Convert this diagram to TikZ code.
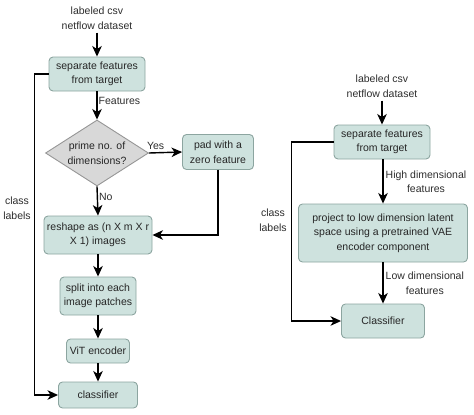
\documentclass[tikz,border=0pt]{standalone}
\usepackage{fontspec}
\setmainfont{Liberation Sans}
\usetikzlibrary{shapes.geometric,arrows.meta,positioning,calc}
\definecolor{boxfill}{RGB}{206,226,222}
\definecolor{boxline}{RGB}{140,165,160}
\definecolor{decfill}{RGB}{216,216,216}
\definecolor{decline}{RGB}{150,150,150}
\definecolor{labeltext}{RGB}{45,45,45}

\tikzset{
    stagebox/.style={draw=boxline, fill=boxfill, rounded corners=4pt, line width=0.9pt,
        align=center, inner sep=1pt, text=black!85},
    decbox/.style={draw=decline, fill=decfill, diamond, aspect=1.56, line width=0.9pt,
        align=center, inner sep=0pt, text=black!85},
    flow/.style={line width=1.4pt, -{Stealth[length=10.5pt,width=9.5pt,inset=3pt]}},
    plain/.style={align=center, text=labeltext}
}

\begin{document}
\begin{tikzpicture}[x=1pt, y=-1pt, font=\fontsize{10.5}{14.5}\selectfont]
    \useasboundingbox (0,0) rectangle (474,415);

    % Left: ViT pipeline
    \node[plain] (lsrc) at (97,18) {labeled csv\\netflow dataset};
    \node[stagebox, minimum width=96pt, minimum height=34pt] (lsep) at (97,74) {separate features\\from target};
    \node[decbox, minimum width=103pt, minimum height=66pt] (ldec) at (97,153) {prime no. of\\dimensions?};
    \node[stagebox, minimum width=71pt, minimum height=35pt] (lpad) at (218,152) {pad with a\\zero feature};
    \node[stagebox, minimum width=108pt, minimum height=38pt] (lres) at (98,235) {reshape as (n X m X r\\X 1) images};
    \node[stagebox, minimum width=76pt, minimum height=38pt] (lspl) at (98,296) {split into each\\image patches};
    \node[stagebox, minimum width=63pt, minimum height=24pt] (lvit) at (98,351) {ViT encoder};
    \node[stagebox, minimum width=79pt, minimum height=26pt] (lcls) at (98,395) {classifier};
    \node[plain] (llab) at (17,208) {class\\labels};

    \draw[flow] (lsrc) -- (lsep);
    \draw[flow] (lsep) -- node[plain, right, pos=0.35, inner sep=1pt] {Features} (ldec);
    \draw[flow] (ldec.east) -- node[plain, above, pos=0.2, inner sep=2pt] {Yes} (lpad.west);
    \draw[flow] (ldec.south) -- node[plain, right, pos=0.35, inner sep=1pt] {No} (lres.north);
    \draw[flow] (lpad.south) |- (lres.east);
    \draw[flow] (lres) -- (lspl);
    \draw[flow] (lspl) -- (lvit);
    \draw[flow] (lvit) -- (lcls);
    \draw[flow] (lsep.west) -- ++(-14,0) |- (lcls.west);

    % Right: VAE pipeline
    \node[plain] (rsrc) at (382,86) {labeled csv\\netflow dataset};
    \node[stagebox, minimum width=96pt, minimum height=34pt] (rsep) at (382,142) {separate features\\from target};
    \node[stagebox, minimum width=169pt, minimum height=58pt] (rproj) at (383,233) {project to low dimension latent\\space using a pretrained VAE\\encoder component};
    \node[stagebox, minimum width=83pt, minimum height=34pt] (rcls) at (383,321) {Classifier};
    \node[plain] (rlab) at (273,220) {class\\labels};

    \draw[flow] (rsrc) -- (rsep);
    \draw[flow] (rsep.south -| rproj.north) -- node[plain, right, inner sep=2pt] {High dimensional\\features} (rproj.north);
    \draw[flow] (rproj) -- node[plain, right, inner sep=2pt] {Low dimensional\\features} (rcls);
    \draw[flow] (rsep.west) -- ++(-42,0) |- (rcls.west);
\end{tikzpicture}
\end{document}
